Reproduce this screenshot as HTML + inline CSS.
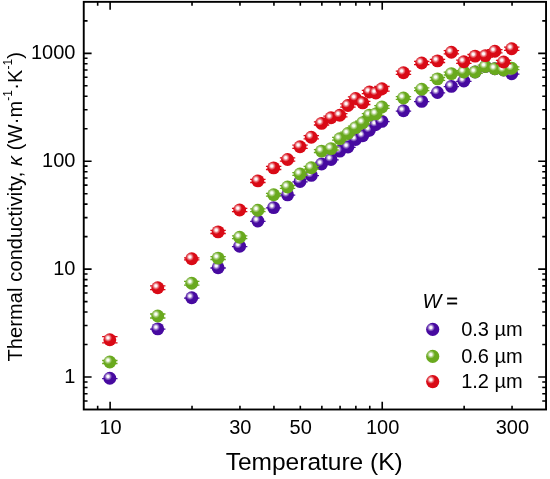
<!DOCTYPE html>
<html><head><meta charset="utf-8"><title>Thermal conductivity</title>
<style>html,body{margin:0;padding:0;background:#fff}svg{display:block}text{font-family:"Liberation Sans",sans-serif;fill:#000}</style>
</head><body>
<svg width="550" height="479" viewBox="0 0 550 479">
<defs>
<radialGradient id="hl" cx="0.5" cy="0.5" r="0.5"><stop offset="0" stop-color="#fff" stop-opacity="1"/><stop offset="0.28" stop-color="#fff" stop-opacity="0.95"/><stop offset="0.6" stop-color="#fff" stop-opacity="0.45"/><stop offset="1" stop-color="#fff" stop-opacity="0"/></radialGradient>
<g id="gp"><circle r="6.45" fill="#470aa0"/><circle cx="-1.85" cy="-1.85" r="4.1" fill="url(#hl)"/></g>
<g id="gg"><circle r="6.45" fill="#69a91e"/><circle cx="-1.85" cy="-1.85" r="4.1" fill="url(#hl)"/></g>
<g id="gr"><circle r="6.45" fill="#d90a16"/><circle cx="-1.85" cy="-1.85" r="4.1" fill="url(#hl)"/></g>
<g id="lp"><circle r="6.6" fill="#470aa0"/><circle cx="-1.85" cy="-1.85" r="4.1" fill="url(#hl)"/></g>
<g id="lg"><circle r="6.6" fill="#69a91e"/><circle cx="-1.85" cy="-1.85" r="4.1" fill="url(#hl)"/></g>
<g id="lr"><circle r="6.6" fill="#d90a16"/><circle cx="-1.85" cy="-1.85" r="4.1" fill="url(#hl)"/></g>
</defs>
<rect width="550" height="479" fill="#fff"/>
<g>
<path d="M102.12 378.60h15.4M150.04 329.20h15.4M184.03 298.10h15.4M210.40 268.00h15.4M231.95 246.60h15.4M250.16 221.30h15.4M265.94 207.90h15.4M279.86 195.20h15.4M292.31 181.80h15.4M303.58 175.70h15.4M313.86 164.30h15.4M323.32 159.80h15.4M332.08 151.40h15.4M340.23 147.30h15.4M347.86 139.80h15.4M355.02 136.10h15.4M361.77 130.40h15.4M368.16 124.80h15.4M374.23 121.70h15.4M395.77 111.10h15.4M413.99 101.70h15.4M429.77 92.80h15.4M443.69 86.70h15.4M456.14 81.30h15.4M504.05 74.10h15.4" stroke="#470aa0" stroke-width="1.3" fill="none"/>
<use href="#gp" x="109.82" y="378.30"/>
<use href="#gp" x="157.74" y="328.90"/>
<use href="#gp" x="191.73" y="297.80"/>
<use href="#gp" x="218.10" y="267.70"/>
<use href="#gp" x="239.65" y="246.30"/>
<use href="#gp" x="257.86" y="221.00"/>
<use href="#gp" x="273.64" y="207.60"/>
<use href="#gp" x="287.56" y="194.90"/>
<use href="#gp" x="300.01" y="181.50"/>
<use href="#gp" x="311.28" y="175.40"/>
<use href="#gp" x="321.56" y="164.00"/>
<use href="#gp" x="331.02" y="159.50"/>
<use href="#gp" x="339.78" y="151.10"/>
<use href="#gp" x="347.93" y="147.00"/>
<use href="#gp" x="355.56" y="139.50"/>
<use href="#gp" x="362.72" y="135.80"/>
<use href="#gp" x="369.47" y="130.10"/>
<use href="#gp" x="375.86" y="124.50"/>
<use href="#gp" x="381.93" y="121.40"/>
<use href="#gp" x="403.47" y="110.80"/>
<use href="#gp" x="421.69" y="101.40"/>
<use href="#gp" x="437.47" y="92.50"/>
<use href="#gp" x="451.39" y="86.40"/>
<use href="#gp" x="463.84" y="81.00"/>
<use href="#gp" x="475.10" y="72.00"/>
<use href="#gp" x="485.38" y="66.50"/>
<use href="#gp" x="494.84" y="68.70"/>
<use href="#gp" x="503.60" y="70.00"/>
<use href="#gp" x="511.75" y="73.80"/>
</g>
<g>
<path d="M102.12 360.50h15.4M102.12 363.50h15.4M150.04 314.00h15.4M150.04 318.00h15.4M184.03 281.40h15.4M184.03 285.20h15.4M210.40 256.70h15.4M210.40 259.50h15.4M231.95 235.90h15.4M231.95 238.70h15.4M250.16 208.90h15.4M250.16 211.70h15.4M265.94 193.30h15.4M265.94 196.10h15.4M279.86 185.60h15.4M279.86 188.40h15.4M292.31 172.60h15.4M292.31 175.40h15.4M303.58 166.40h15.4M303.58 169.20h15.4M313.86 149.70h15.4M313.86 152.50h15.4M323.32 147.20h15.4M323.32 150.00h15.4M332.08 137.40h15.4M332.08 140.20h15.4M340.23 132.10h15.4M340.23 134.90h15.4M347.86 126.20h15.4M347.86 129.00h15.4M355.02 121.20h15.4M355.02 124.00h15.4M361.77 113.70h15.4M361.77 116.50h15.4M368.16 112.50h15.4M368.16 115.30h15.4M374.23 105.60h15.4M374.23 108.40h15.4M395.77 96.60h15.4M395.77 99.40h15.4M413.99 87.80h15.4M413.99 90.60h15.4M429.77 77.50h15.4M429.77 80.30h15.4M443.69 72.20h15.4M443.69 75.00h15.4M456.14 70.60h15.4M456.14 73.40h15.4M467.40 70.60h15.4M467.40 73.40h15.4M477.68 65.10h15.4M477.68 67.90h15.4M487.14 67.30h15.4M487.14 70.10h15.4M495.90 68.60h15.4M495.90 71.40h15.4M504.05 66.90h15.4M504.05 69.70h15.4" stroke="#69a91e" stroke-width="1.3" fill="none"/>
<use href="#gg" x="109.82" y="362.00"/>
<use href="#gg" x="157.74" y="316.00"/>
<use href="#gg" x="191.73" y="283.30"/>
<use href="#gg" x="218.10" y="258.10"/>
<use href="#gg" x="239.65" y="237.30"/>
<use href="#gg" x="257.86" y="210.30"/>
<use href="#gg" x="273.64" y="194.70"/>
<use href="#gg" x="287.56" y="187.00"/>
<use href="#gg" x="300.01" y="174.00"/>
<use href="#gg" x="311.28" y="167.80"/>
<use href="#gg" x="321.56" y="151.10"/>
<use href="#gg" x="331.02" y="148.60"/>
<use href="#gg" x="339.78" y="138.80"/>
<use href="#gg" x="347.93" y="133.50"/>
<use href="#gg" x="355.56" y="127.60"/>
<use href="#gg" x="362.72" y="122.60"/>
<use href="#gg" x="369.47" y="115.10"/>
<use href="#gg" x="375.86" y="113.90"/>
<use href="#gg" x="381.93" y="107.00"/>
<use href="#gg" x="403.47" y="98.00"/>
<use href="#gg" x="421.69" y="89.20"/>
<use href="#gg" x="437.47" y="78.90"/>
<use href="#gg" x="451.39" y="73.60"/>
<use href="#gg" x="463.84" y="72.00"/>
<use href="#gg" x="475.10" y="72.00"/>
<use href="#gg" x="485.38" y="66.50"/>
<use href="#gg" x="494.84" y="68.70"/>
<use href="#gg" x="503.60" y="70.00"/>
<use href="#gg" x="511.75" y="68.30"/>
</g>
<g>
<path d="M102.12 336.60h15.4M102.12 342.80h15.4M150.04 285.80h15.4M150.04 289.60h15.4M184.03 257.80h15.4M184.03 259.80h15.4M210.40 230.30h15.4M210.40 233.50h15.4M231.95 208.40h15.4M231.95 211.60h15.4M250.16 179.30h15.4M250.16 182.50h15.4M265.94 166.30h15.4M265.94 169.50h15.4M279.86 157.90h15.4M279.86 161.10h15.4M292.31 145.20h15.4M292.31 148.40h15.4M303.58 135.60h15.4M303.58 138.80h15.4M313.86 121.80h15.4M313.86 125.00h15.4M323.32 116.20h15.4M323.32 119.40h15.4M332.08 113.70h15.4M332.08 116.90h15.4M340.23 103.90h15.4M340.23 107.10h15.4M347.86 96.90h15.4M347.86 100.10h15.4M355.02 101.30h15.4M355.02 104.50h15.4M361.77 90.40h15.4M361.77 93.60h15.4M368.16 91.40h15.4M368.16 94.60h15.4M374.23 86.50h15.4M374.23 91.10h15.4M395.77 71.10h15.4M395.77 74.30h15.4M413.99 61.40h15.4M413.99 64.60h15.4M429.77 59.30h15.4M429.77 62.50h15.4M443.69 50.70h15.4M443.69 53.90h15.4M456.14 60.10h15.4M456.14 63.30h15.4M467.40 54.50h15.4M467.40 57.70h15.4M477.68 54.00h15.4M477.68 57.20h15.4M487.14 49.60h15.4M487.14 52.80h15.4M495.90 60.40h15.4M495.90 63.60h15.4M504.05 47.10h15.4M504.05 50.30h15.4" stroke="#d90a16" stroke-width="1.3" fill="none"/>
<use href="#gr" x="109.82" y="339.70"/>
<use href="#gr" x="157.74" y="287.70"/>
<use href="#gr" x="191.73" y="258.80"/>
<use href="#gr" x="218.10" y="231.90"/>
<use href="#gr" x="239.65" y="210.00"/>
<use href="#gr" x="257.86" y="180.90"/>
<use href="#gr" x="273.64" y="167.90"/>
<use href="#gr" x="287.56" y="159.50"/>
<use href="#gr" x="300.01" y="146.80"/>
<use href="#gr" x="311.28" y="137.20"/>
<use href="#gr" x="321.56" y="123.40"/>
<use href="#gr" x="331.02" y="117.80"/>
<use href="#gr" x="339.78" y="115.30"/>
<use href="#gr" x="347.93" y="105.50"/>
<use href="#gr" x="355.56" y="98.50"/>
<use href="#gr" x="362.72" y="102.90"/>
<use href="#gr" x="369.47" y="92.00"/>
<use href="#gr" x="375.86" y="93.00"/>
<use href="#gr" x="381.93" y="88.80"/>
<use href="#gr" x="403.47" y="72.70"/>
<use href="#gr" x="421.69" y="63.00"/>
<use href="#gr" x="437.47" y="60.90"/>
<use href="#gr" x="451.39" y="52.30"/>
<use href="#gr" x="463.84" y="61.70"/>
<use href="#gr" x="475.10" y="56.10"/>
<use href="#gr" x="485.38" y="55.60"/>
<use href="#gr" x="494.84" y="51.20"/>
<use href="#gr" x="503.60" y="62.00"/>
<use href="#gr" x="511.75" y="48.70"/>
</g>
<path d="M83.75 400.96H87.55M542.25 400.96H546.05M83.75 393.73H87.55M542.25 393.73H546.05M83.75 387.48H87.55M542.25 387.48H546.05M83.75 381.96H87.55M542.25 381.96H546.05M83.75 377.02H91.60M538.20 377.02H546.05M83.75 344.54H87.55M542.25 344.54H546.05M83.75 325.54H87.55M542.25 325.54H546.05M83.75 312.06H87.55M542.25 312.06H546.05M83.75 301.60H87.55M542.25 301.60H546.05M83.75 293.06H87.55M542.25 293.06H546.05M83.75 285.84H87.55M542.25 285.84H546.05M83.75 279.58H87.55M542.25 279.58H546.05M83.75 274.06H87.55M542.25 274.06H546.05M83.75 269.12H91.60M538.20 269.12H546.05M83.75 236.64H87.55M542.25 236.64H546.05M83.75 217.64H87.55M542.25 217.64H546.05M83.75 204.16H87.55M542.25 204.16H546.05M83.75 193.71H87.55M542.25 193.71H546.05M83.75 185.16H87.55M542.25 185.16H546.05M83.75 177.94H87.55M542.25 177.94H546.05M83.75 171.68H87.55M542.25 171.68H546.05M83.75 166.16H87.55M542.25 166.16H546.05M83.75 161.23H91.60M538.20 161.23H546.05M83.75 128.75H87.55M542.25 128.75H546.05M83.75 109.75H87.55M542.25 109.75H546.05M83.75 96.27H87.55M542.25 96.27H546.05M83.75 85.81H87.55M542.25 85.81H546.05M83.75 77.27H87.55M542.25 77.27H546.05M83.75 70.04H87.55M542.25 70.04H546.05M83.75 63.79H87.55M542.25 63.79H546.05M83.75 58.27H87.55M542.25 58.27H546.05M83.75 53.33H91.60M538.20 53.33H546.05M83.75 20.85H87.55M542.25 20.85H546.05M97.67 409.50V405.70M97.67 1.85V5.65M110.12 409.50V401.65M110.12 1.85V9.70M192.03 409.50V405.70M192.03 1.85V5.65M239.95 409.50V405.70M239.95 1.85V5.65M273.94 409.50V405.70M273.94 1.85V5.65M300.31 409.50V405.70M300.31 1.85V5.65M321.86 409.50V405.70M321.86 1.85V5.65M340.08 409.50V405.70M340.08 1.85V5.65M355.86 409.50V405.70M355.86 1.85V5.65M369.77 409.50V405.70M369.77 1.85V5.65M382.23 409.50V401.65M382.23 1.85V9.70M464.14 409.50V405.70M464.14 1.85V5.65M512.05 409.50V405.70M512.05 1.85V5.65" stroke="#000" stroke-width="1.6" fill="none"/>
<rect x="83.75" y="1.85" width="462.29999999999995" height="407.65" fill="none" stroke="#000" stroke-width="1.9"/>
<text x="75.4" y="382.92" text-anchor="end" font-size="20">1</text>
<text x="75.4" y="275.02" text-anchor="end" font-size="20">10</text>
<text x="75.4" y="167.13" text-anchor="end" font-size="20">100</text>
<text x="75.4" y="59.23" text-anchor="end" font-size="20">1000</text>
<text x="110.52" y="433.8" text-anchor="middle" font-size="20">10</text>
<text x="240.35" y="433.8" text-anchor="middle" font-size="20">30</text>
<text x="300.71" y="433.8" text-anchor="middle" font-size="20">50</text>
<text x="382.63" y="433.8" text-anchor="middle" font-size="20">100</text>
<text x="512.45" y="433.8" text-anchor="middle" font-size="20">300</text>
<text x="314.2" y="470.3" text-anchor="middle" font-size="24.5">Temperature (K)</text>
<text transform="translate(21.6 361.6) rotate(-90)" font-size="20" letter-spacing="0.12">Thermal conductivity, <tspan font-style="italic">κ</tspan> (W·m<tspan font-size="12" dy="-10">-1</tspan><tspan dy="10">·K</tspan><tspan font-size="12" dy="-10">-1</tspan><tspan dy="10">)</tspan></text>
<text x="422.6" y="307.6" font-size="20"><tspan font-style="italic">W</tspan><tspan x="446.3" stroke="#000" stroke-width="0.4">=</tspan></text>
<use href="#lp" x="432.7" y="329.4"/>
<use href="#lg" x="432.7" y="356.4"/>
<use href="#lr" x="432.7" y="381.6"/>
<text x="461.2" y="335.6" font-size="20">0.3 µm</text>
<text x="461.2" y="362.6" font-size="20">0.6 µm</text>
<text x="461.2" y="388.3" font-size="20">1.2 µm</text>
</svg>
</body></html>
